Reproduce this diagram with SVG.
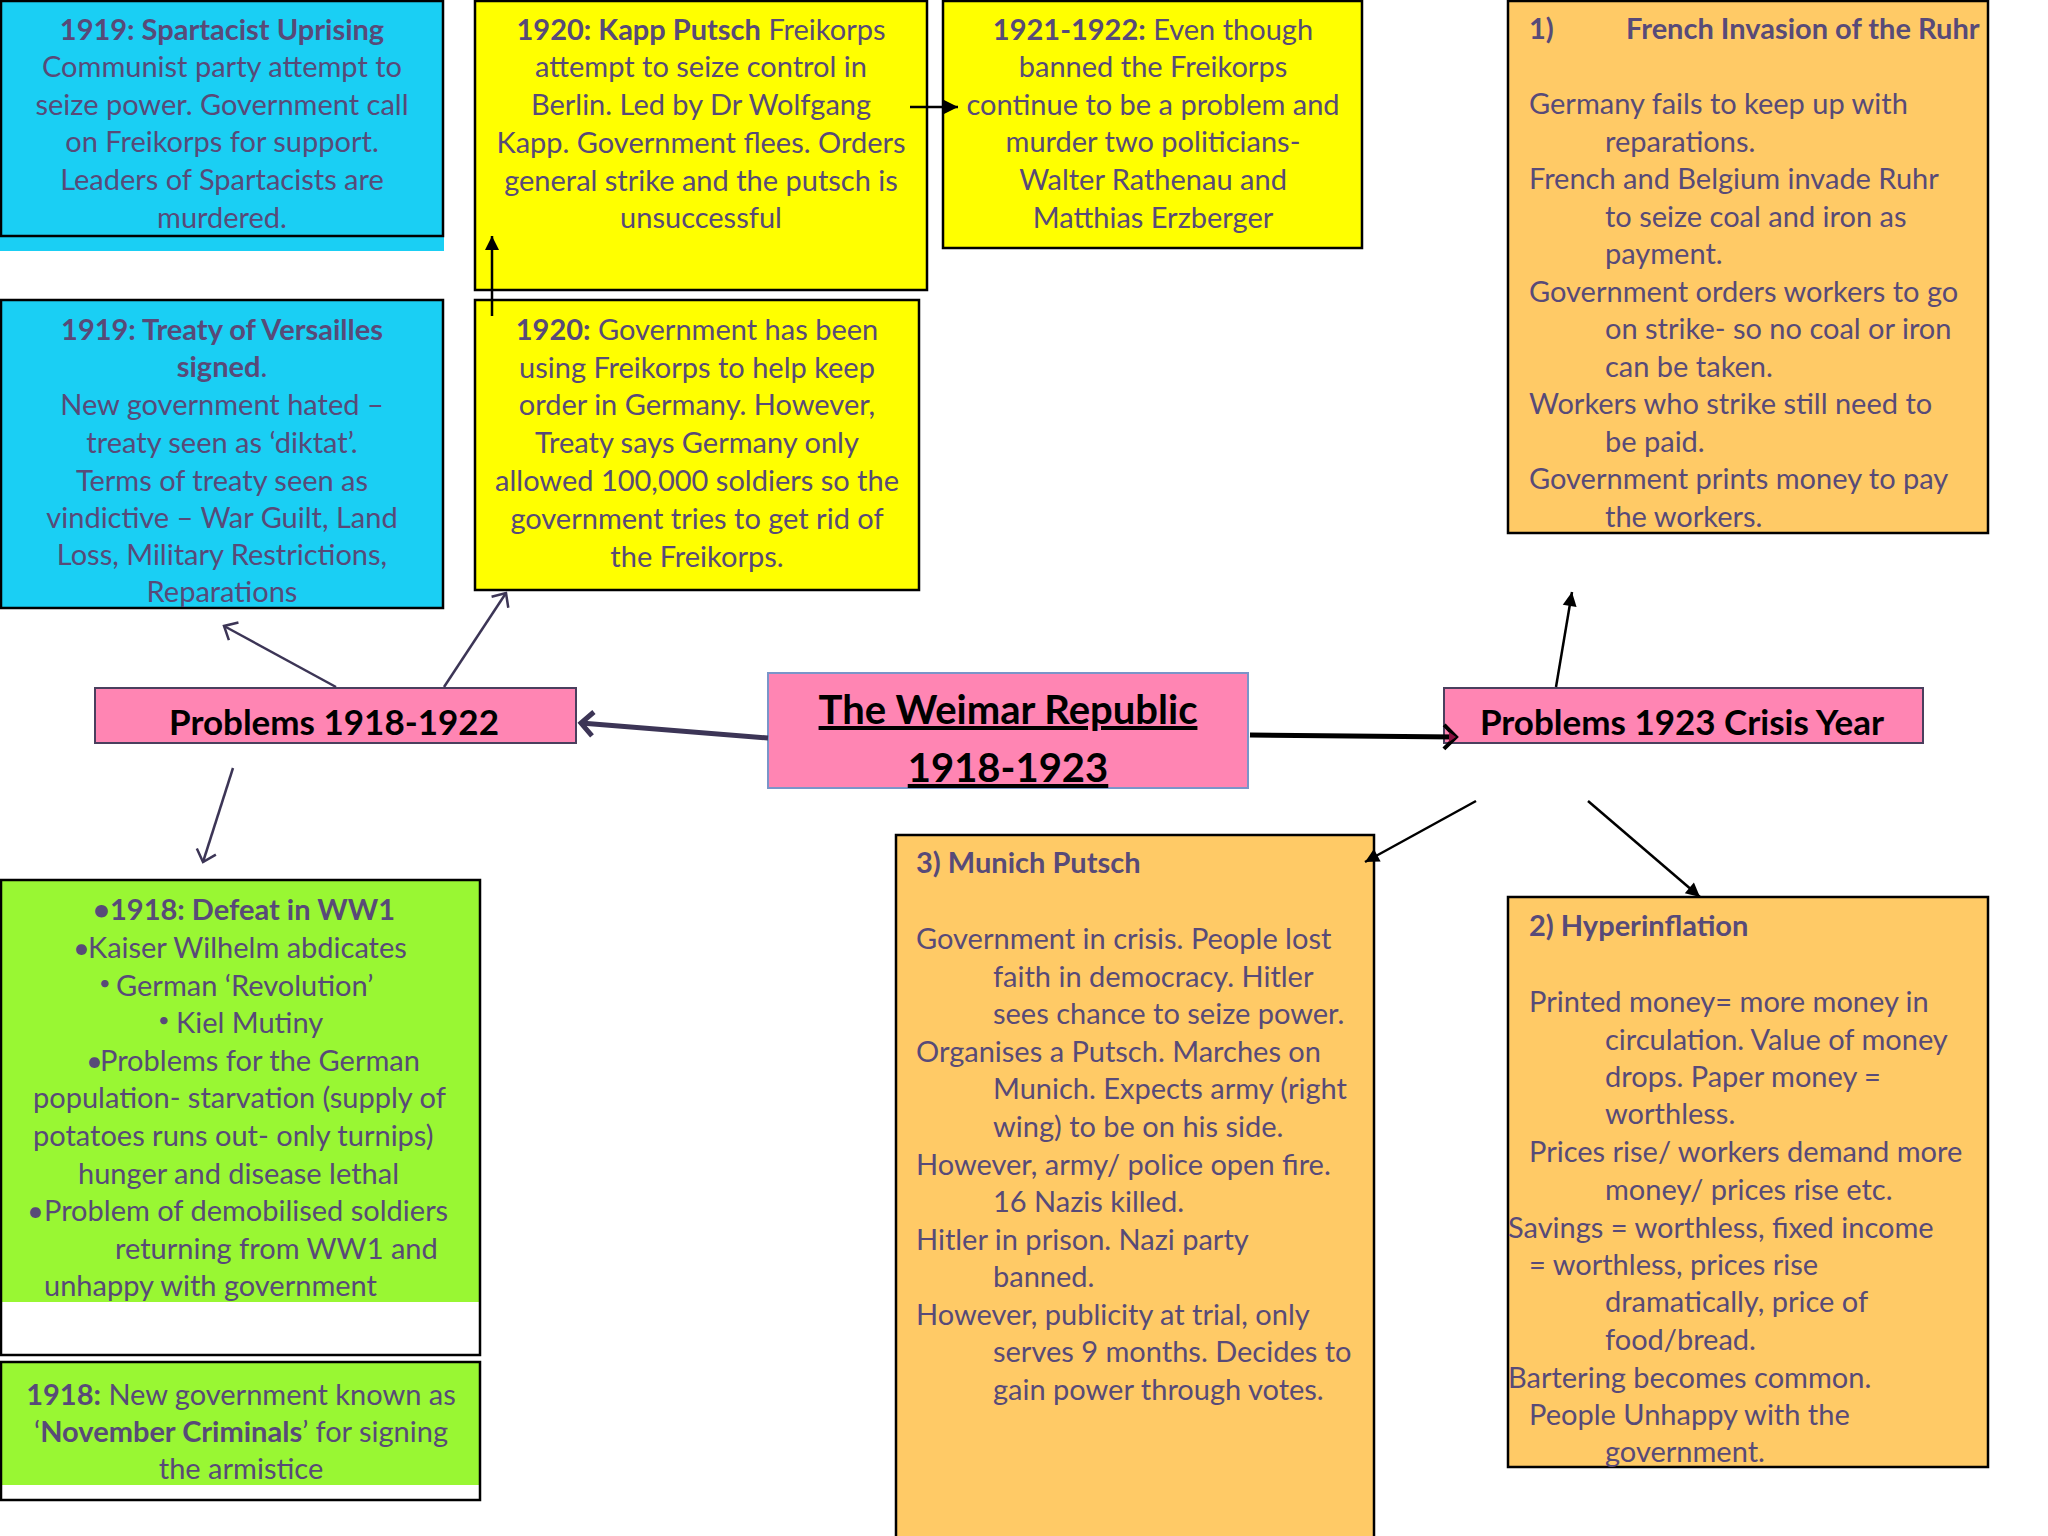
<svg xmlns="http://www.w3.org/2000/svg" width="2048" height="1536" viewBox="0 0 2048 1536">
<style>
text{font-family:Lato,"Liberation Sans",sans-serif;fill:#584a78;font-size:29px}
.c{text-anchor:middle}
.b{font-weight:bold}
.k{fill:#000;font-weight:bold}
.box{stroke:#000;stroke-width:2.5}
.blue{fill:#1acff4}
.yel{fill:#ffff00}
.org{fill:#ffca66}
.grn{fill:#99f733}
.pink{fill:#ff85b3}
.thin{stroke:#3c3556;stroke-width:2.5;fill:none}
.blk{stroke:#000;stroke-width:2.5;fill:none}
</style>
<defs>
<marker id="open" markerUnits="userSpaceOnUse" markerWidth="30" markerHeight="30" refX="15" refY="15" orient="auto" viewBox="0 0 30 30">
<path d="M4,5 L15,15 L4,25" fill="none" stroke="#3c3556" stroke-width="2.5"/>
</marker>
<marker id="openThick" markerUnits="userSpaceOnUse" markerWidth="36" markerHeight="36" refX="20" refY="18" orient="auto" viewBox="0 0 36 36">
<path d="M8,6 L20,18 L8,30" fill="none" stroke="#3c3556" stroke-width="5"/>
</marker>
<marker id="openThickBlk" markerUnits="userSpaceOnUse" markerWidth="36" markerHeight="36" refX="20" refY="18" orient="auto" viewBox="0 0 36 36">
<path d="M8,6 L20,18 L8,30" fill="none" stroke="#000" stroke-width="4"/>
<path d="M13,13 L20,18 L13,23 Z" fill="#8a1040"/>
</marker>
<marker id="fill" markerUnits="userSpaceOnUse" markerWidth="20" markerHeight="20" refX="16" refY="10" orient="auto" viewBox="0 0 20 20">
<path d="M2,3 L16,10 L2,17 Z" fill="#000"/>
</marker>
</defs>

<g id="spartacist">
<rect class="blue" x="0" y="0" width="444" height="251"/>
<rect class="box" x="1" y="1" width="442" height="235" fill="none"/>
<text class="c" x="222" y="40"><tspan class="b">1919: Spartacist Uprising</tspan></text>
<text class="c" x="222" y="77">Communist party attempt to</text>
<text class="c" x="222" y="115">seize power. Government call</text>
<text class="c" x="222" y="152">on Freikorps for support.</text>
<text class="c" x="222" y="190">Leaders of Spartacists are</text>
<text class="c" x="222" y="228">murdered.</text>
</g>

<g id="kapp">
<rect class="box yel" x="475" y="1" width="452" height="289"/>
<text class="c" x="701" y="40"><tspan class="b">1920: Kapp Putsch</tspan> Freikorps</text>
<text class="c" x="701" y="77">attempt to seize control in</text>
<text class="c" x="701" y="115">Berlin. Led by Dr Wolfgang</text>
<text class="c" x="701" y="153">Kapp. Government flees. Orders</text>
<text class="c" x="701" y="191">general strike and the putsch is</text>
<text class="c" x="701" y="228">unsuccessful</text>
</g>

<g id="freikorps1921">
<rect class="box yel" x="943" y="1" width="419" height="247"/>
<text class="c" x="1153" y="40"><tspan class="b">1921-1922:</tspan> Even though</text>
<text class="c" x="1153" y="77">banned the Freikorps</text>
<text class="c" x="1153" y="115">continue to be a problem and</text>
<text class="c" x="1153" y="152">murder two politicians-</text>
<text class="c" x="1153" y="190">Walter Rathenau and</text>
<text class="c" x="1153" y="228">Matthias Erzberger</text>
</g>

<g id="ruhr">
<rect class="box org" x="1508" y="1" width="480" height="532"/>
<text class="b" x="1529" y="39">1)</text>
<text class="b" x="1626" y="39">French Invasion of the Ruhr</text>
<text x="1529" y="114">Germany fails to keep up with</text>
<text x="1605" y="152">reparations.</text>
<text x="1529" y="189">French and Belgium invade Ruhr</text>
<text x="1605" y="227">to seize coal and iron as</text>
<text x="1605" y="264">payment.</text>
<text x="1529" y="302">Government orders workers to go</text>
<text x="1605" y="339">on strike- so no coal or iron</text>
<text x="1605" y="377">can be taken.</text>
<text x="1529" y="414">Workers who strike still need to</text>
<text x="1605" y="452">be paid.</text>
<text x="1529" y="489">Government prints money to pay</text>
<text x="1605" y="527">the workers.</text>
</g>

<g id="versailles">
<rect class="box blue" x="1" y="300" width="442" height="308"/>
<text class="c" x="222" y="340"><tspan class="b">1919: Treaty of Versailles</tspan></text>
<text class="c" x="222" y="377"><tspan class="b">signed</tspan>.</text>
<text class="c" x="222" y="415">New government hated –</text>
<text class="c" x="222" y="453">treaty seen as ‘diktat’.</text>
<text class="c" x="222" y="491">Terms of treaty seen as</text>
<text class="c" x="222" y="528">vindictive – War Guilt, Land</text>
<text class="c" x="222" y="565">Loss, Military Restrictions,</text>
<text class="c" x="222" y="602">Reparations</text>
</g>

<g id="government1920">
<rect class="box yel" x="475" y="300" width="444" height="290"/>
<text class="c" x="697" y="340"><tspan class="b">1920:</tspan> Government has been</text>
<text class="c" x="697" y="378">using Freikorps to help keep</text>
<text class="c" x="697" y="415">order in Germany. However,</text>
<text class="c" x="697" y="453">Treaty says Germany only</text>
<text class="c" x="697" y="491">allowed 100,000 soldiers so the</text>
<text class="c" x="697" y="529">government tries to get rid of</text>
<text class="c" x="697" y="567">the Freikorps.</text>
</g>

<g id="problems1918">
<rect class="pink" x="95" y="688" width="481" height="55" stroke="#4a3f5e" stroke-width="2"/>
<text class="c k" x="334" y="735" style="font-size:35px">Problems 1918-1922</text>
</g>

<g id="weimar">
<rect class="pink" x="768" y="673" width="480" height="115" stroke="#7a95c9" stroke-width="2"/>
<text class="c k" x="1008" y="724" style="font-size:40px;text-decoration:underline">The Weimar Republic</text>
<text class="c k" x="1008" y="782" style="font-size:40px;text-decoration:underline">1918-1923</text>
</g>

<g id="problems1923">
<rect class="pink" x="1444" y="688" width="479" height="55" stroke="#4a3f5e" stroke-width="2"/>
<text class="c k" x="1682" y="735" style="font-size:35px">Problems 1923 Crisis Year</text>
</g>

<g id="defeat1918">
<rect class="grn" x="0" y="880" width="481" height="422"/>
<rect class="box" x="1" y="880" width="479" height="475" fill="none"/>
<text class="b" x="93" y="920">•</text><text class="b" x="110" y="920">1918: Defeat in WW1</text>
<text x="73" y="958">•</text><text x="88" y="958">Kaiser Wilhelm abdicates</text>
<text x="99" y="990" style="font-size:20px">•</text><text x="116" y="996">German ‘Revolution’</text>
<text x="158" y="1027" style="font-size:20px">•</text><text x="176" y="1033">Kiel Mutiny</text>
<text x="86" y="1071">•</text><text x="100" y="1071">Problems for the German</text>
<text x="33" y="1108">population- starvation (supply of</text>
<text x="33" y="1146">potatoes runs out- only turnips)</text>
<text x="78" y="1184">hunger and disease lethal</text>
<text x="27" y="1221">•</text><text x="44" y="1221">Problem of demobilised soldiers</text>
<text x="115" y="1259">returning from WW1 and</text>
<text x="44" y="1296">unhappy with government</text>
</g>

<g id="novemberCriminals">
<rect class="grn" x="0" y="1362" width="481" height="123"/>
<rect class="box" x="1" y="1362" width="479" height="138" fill="none"/>
<text class="c" x="241" y="1405"><tspan class="b">1918:</tspan> New government known as</text>
<text class="c" x="241" y="1442">‘<tspan class="b">November Criminals</tspan>’ for signing</text>
<text class="c" x="241" y="1479">the armistice</text>
</g>

<g id="munich">
<rect class="box org" x="896" y="835" width="478" height="710"/>
<text class="b" x="916" y="873">3) Munich Putsch</text>
<text x="916" y="949">Government in crisis. People lost</text>
<text x="993" y="987">faith in democracy. Hitler</text>
<text x="993" y="1024">sees chance to seize power.</text>
<text x="916" y="1062">Organises a Putsch. Marches on</text>
<text x="993" y="1099">Munich. Expects army (right</text>
<text x="993" y="1137">wing) to be on his side.</text>
<text x="916" y="1175">However, army/ police open fire.</text>
<text x="993" y="1212">16 Nazis killed.</text>
<text x="916" y="1250">Hitler in prison. Nazi party</text>
<text x="993" y="1287">banned.</text>
<text x="916" y="1325">However, publicity at trial, only</text>
<text x="993" y="1362">serves 9 months. Decides to</text>
<text x="993" y="1400">gain power through votes.</text>
</g>

<g id="hyperinflation">
<rect class="box org" x="1508" y="897" width="480" height="570"/>
<text class="b" x="1529" y="936">2) Hyperinflation</text>
<text x="1529" y="1012">Printed money= more money in</text>
<text x="1605" y="1050">circulation. Value of money</text>
<text x="1605" y="1087">drops. Paper money =</text>
<text x="1605" y="1124">worthless.</text>
<text x="1529" y="1162">Prices rise/ workers demand more</text>
<text x="1605" y="1200">money/ prices rise etc.</text>
<text x="1508" y="1238">Savings = worthless, fixed income</text>
<text x="1529" y="1275">= worthless, prices rise</text>
<text x="1605" y="1312">dramatically, price of</text>
<text x="1605" y="1350">food/bread.</text>
<text x="1508" y="1388">Bartering becomes common.</text>
<text x="1529" y="1425">People Unhappy with the</text>
<text x="1605" y="1462">government.</text>
</g>

<g id="connectors">
<line x1="768" y1="738" x2="581" y2="723" stroke="#3c3556" stroke-width="5" marker-end="url(#openThick)"/>
<line x1="1250" y1="735" x2="1456" y2="737" stroke="#000" stroke-width="5" marker-end="url(#openThickBlk)"/>
<line class="thin" x1="336" y1="687" x2="224" y2="626" marker-end="url(#open)"/>
<line class="thin" x1="444" y1="687" x2="506" y2="593" marker-end="url(#open)"/>
<line class="thin" x1="233" y1="768" x2="203" y2="862" marker-end="url(#open)"/>
<line class="blk" x1="492" y1="316" x2="492" y2="236" marker-end="url(#fill)"/>
<line class="blk" x1="910" y1="107" x2="958" y2="107" marker-end="url(#fill)"/>
<line class="blk" x1="1556" y1="687" x2="1572" y2="592" marker-end="url(#fill)"/>
<line class="blk" x1="1476" y1="801" x2="1365" y2="862" marker-end="url(#fill)"/>
<line class="blk" x1="1588" y1="801" x2="1700" y2="897" marker-end="url(#fill)"/>
</g>
</svg>
